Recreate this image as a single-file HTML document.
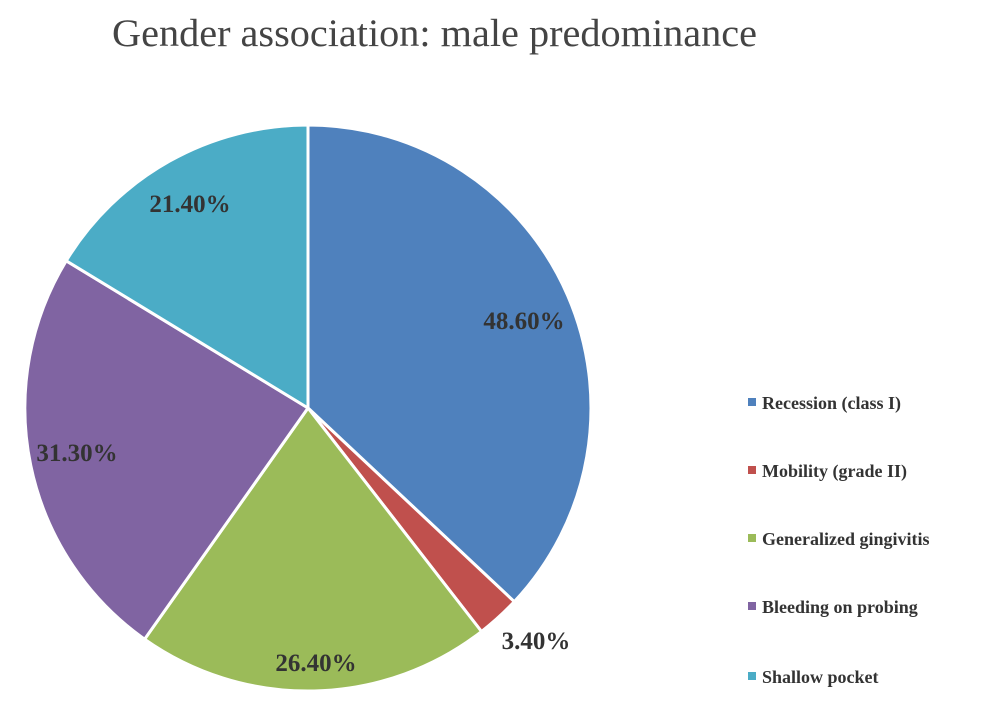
<!DOCTYPE html>
<html><head><meta charset="utf-8"><style>
html,body{margin:0;padding:0;background:#fff;}
</style></head><body>
<svg width="986" height="706" xmlns="http://www.w3.org/2000/svg">
<rect width="986" height="706" fill="#fff"/>
<text x="112" y="46" font-family="Liberation Serif, serif" font-size="39" fill="#444" textLength="645" lengthAdjust="spacingAndGlyphs">Gender association: male predominance</text>
<g stroke="#fff" stroke-width="3" stroke-linejoin="round">
<path d="M308,408 L308,125 A283,283 0 0 1 514.3,601.7 Z" fill="#4F81BD"/>
<path d="M308,408 L514.3,601.7 A283,283 0 0 1 481.5,631.5 Z" fill="#C0504D"/>
<path d="M308,408 L481.5,631.5 A283,283 0 0 1 144.6,639.2 Z" fill="#9BBB59"/>
<path d="M308,408 L144.6,639.2 A283,283 0 0 1 66.2,260.8 Z" fill="#8064A2"/>
<path d="M308,408 L66.2,260.8 A283,283 0 0 1 308,125 Z" fill="#4BACC6"/>
</g>
<g font-family="Liberation Serif, serif" font-size="25" font-weight="bold" fill="#333" text-anchor="middle">
<text x="524" y="329">48.60%</text>
<text x="190" y="212">21.40%</text>
<text x="77" y="461">31.30%</text>
<text x="316" y="671">26.40%</text>
<text x="536" y="649">3.40%</text>
</g>
<g font-family="Liberation Serif, serif" font-size="18" font-weight="bold" fill="#333">
<rect x="748" y="398" width="8" height="8" fill="#4F81BD"/><text x="762" y="409">Recession (class I)</text>
<rect x="748" y="466" width="8" height="8" fill="#C0504D"/><text x="762" y="477">Mobility (grade II)</text>
<rect x="748" y="534" width="8" height="8" fill="#9BBB59"/><text x="762" y="545">Generalized gingivitis</text>
<rect x="748" y="602" width="8" height="8" fill="#8064A2"/><text x="762" y="613">Bleeding on probing</text>
<rect x="748" y="672" width="8" height="8" fill="#4BACC6"/><text x="762" y="683">Shallow pocket</text>
</g>
</svg>
</body></html>
